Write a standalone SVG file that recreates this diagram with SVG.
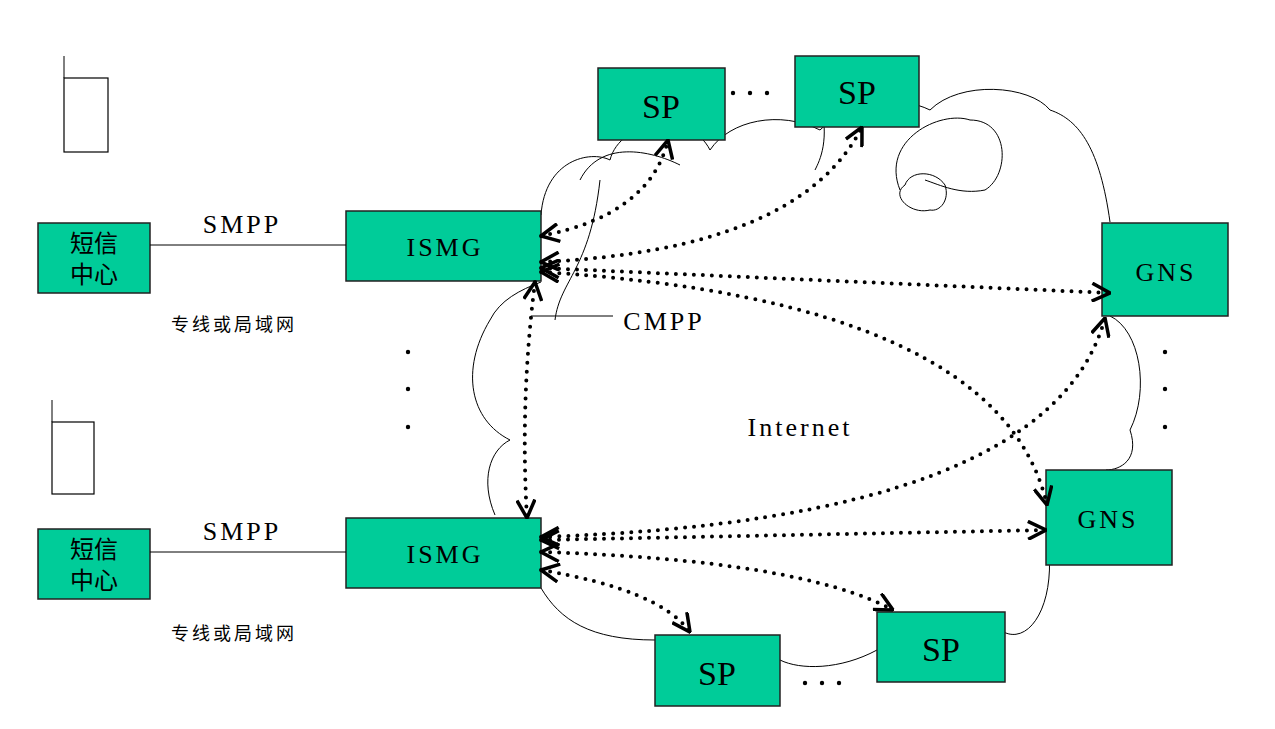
<svg xmlns="http://www.w3.org/2000/svg" width="1275" height="729" viewBox="0 0 1275 729">
<style>
.box{fill:#00cc99;stroke:#222;stroke-width:1.5}
.ph{fill:#fff;stroke:#000;stroke-width:1.2}
.t{font-family:"Liberation Serif",serif;font-size:26px;letter-spacing:3px;text-anchor:middle;fill:#000}
.tb{font-family:"Liberation Serif",serif;font-size:34px;text-anchor:middle;fill:#000}
.cn{font-family:"Liberation Serif","Noto Sans CJK SC",serif;font-size:24px;text-anchor:middle;fill:#000}
.cs{font-family:"Liberation Serif","Noto Sans CJK SC",serif;font-size:18px;letter-spacing:3px;text-anchor:middle;fill:#000}
.cl{fill:none;stroke:#000;stroke-width:1}
.c{fill:none;stroke:#000;stroke-width:4;stroke-linecap:round;stroke-dasharray:0 9}
.dot{fill:#000}
</style>
<defs>
<marker id="a" viewBox="0 0 20 20" refX="19" refY="10" markerWidth="20" markerHeight="20" markerUnits="userSpaceOnUse" orient="auto-start-reverse">
<path d="M1,1 L19,10 L1,19" fill="none" stroke="#000" stroke-width="3.5" stroke-dasharray="none"/>
</marker>
</defs>
<g id="cloud">
<path class="cl" d="M541,215 C545,160 590,150 610,160 C620,120 690,110 710,150 C730,120 780,110 820,130 C850,100 900,95 930,110 C960,80 1030,85 1050,110 C1080,120 1100,150 1110,222 M1110,316 C1140,330 1150,390 1130,430 C1140,460 1120,470 1106,470 M1046,530 C1060,600 1030,650 1000,630 M877,650 C840,670 800,670 780,660 M655,640 C590,640 560,620 541,588 M495,515 C480,480 490,450 510,440 C470,420 460,370 490,320 C500,300 520,290 541,282"/>
<path class="cl" d="M900,190 C880,140 940,110 970,120 C1010,120 1010,175 985,190 C960,195 940,185 925,180 M930,210 C910,215 890,195 905,185 C910,170 935,170 945,185 C950,200 940,212 930,210"/>
<path class="cl" d="M580,180 C600,140 650,150 680,165 M555,320 C560,280 590,270 600,180 M820,100 C830,140 820,160 815,170"/>
<path class="cl" d="M531,316 L613,316"/>
</g>
<g id="phone1"><rect class="ph" x="64" y="78" width="44" height="74"/><line class="cl" x1="64" y1="56" x2="64" y2="78"/></g>
<g id="phone2"><rect class="ph" x="52" y="422" width="42" height="72"/><line class="cl" x1="52" y1="400" x2="52" y2="422"/></g>
<g id="smc1"><rect class="box" x="38" y="223" width="112" height="70"/><text class="cn" x="94" y="252">短信</text><text class="cn" x="94" y="283">中心</text></g>
<g id="smc2"><rect class="box" x="38" y="529" width="112" height="70"/><text class="cn" x="94" y="558">短信</text><text class="cn" x="94" y="589">中心</text></g>
<g id="ismg1"><rect class="box" x="346" y="211" width="195" height="70"/><text class="t" x="445" y="256">ISMG</text></g>
<g id="ismg2"><rect class="box" x="346" y="518" width="195" height="70"/><text class="t" x="445" y="563">ISMG</text></g>
<g id="sp1"><rect class="box" x="598" y="68" width="127" height="72"/><text class="tb" x="661" y="118">SP</text></g>
<g id="sp2"><rect class="box" x="795" y="56" width="124" height="71"/><text class="tb" x="857" y="104">SP</text></g>
<g id="gns1"><rect class="box" x="1102" y="223" width="126" height="93"/><text class="t" x="1166" y="281">GNS</text></g>
<g id="gns2"><rect class="box" x="1046" y="470" width="126" height="95"/><text class="t" x="1108" y="528">GNS</text></g>
<g id="sp3"><rect class="box" x="655" y="635" width="125" height="71"/><text class="tb" x="717" y="685">SP</text></g>
<g id="sp4"><rect class="box" x="877" y="612" width="128" height="70"/><text class="tb" x="941" y="661">SP</text></g>
<g id="labels">
<text class="t" x="242" y="233">SMPP</text>
<text class="t" x="242" y="540">SMPP</text>
<text class="cs" x="234" y="331">专线或局域网</text>
<text class="cs" x="234" y="640">专线或局域网</text>
<text class="t" x="664" y="330">CMPP</text>
<text class="t" x="800" y="436">Internet</text>
<circle class="dot" cx="733" cy="93" r="2.2"/><circle class="dot" cx="750" cy="93" r="2.2"/><circle class="dot" cx="767" cy="93" r="2.2"/>
<circle class="dot" cx="408" cy="352" r="2.2"/><circle class="dot" cx="408" cy="389" r="2.2"/><circle class="dot" cx="408" cy="427" r="2.2"/>
<circle class="dot" cx="1165" cy="352" r="2.2"/><circle class="dot" cx="1165" cy="389" r="2.2"/><circle class="dot" cx="1165" cy="427" r="2.2"/>
<circle class="dot" cx="805" cy="683" r="2.2"/><circle class="dot" cx="822" cy="683" r="2.2"/><circle class="dot" cx="839" cy="683" r="2.2"/>
</g>
<g id="connectors">
<line class="cl" x1="150" y1="245" x2="346" y2="245"/>
<line class="cl" x1="150" y1="552" x2="346" y2="552"/>
<path class="c" marker-start="url(#a)" marker-end="url(#a)" d="M541,236 Q650,215 668,140"/>
<path class="c" marker-start="url(#a)" marker-end="url(#a)" d="M541,262 Q800,250 862,127"/>
<path class="c" marker-start="url(#a)" marker-end="url(#a)" d="M541,268 L1110,293"/>
<path class="c" marker-start="url(#a)" marker-end="url(#a)" d="M541,272 Q1000,300 1047,505"/>
<path class="c" marker-start="url(#a)" marker-end="url(#a)" d="M535,282 Q520,400 527,518"/>
<path class="c" marker-start="url(#a)" marker-end="url(#a)" d="M541,537 Q1050,520 1105,318"/>
<path class="c" marker-start="url(#a)" marker-end="url(#a)" d="M541,540 L1046,530"/>
<path class="c" marker-start="url(#a)" marker-end="url(#a)" d="M541,552 Q800,560 893,610"/>
<path class="c" marker-start="url(#a)" marker-end="url(#a)" d="M541,570 Q660,590 690,632"/>
</g>
</svg>
